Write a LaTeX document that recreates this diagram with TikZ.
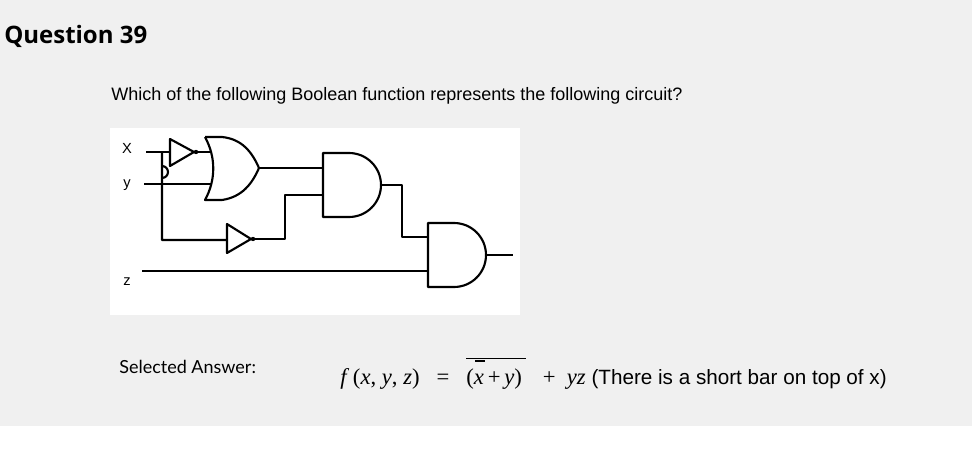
\documentclass[tikz,border=0pt]{standalone}
\usepackage{fontspec}
\setmainfont{Liberation Sans}
\newfontfamily\qfont{Open Sans}
\newfontfamily\lfont{Lato}
\newfontfamily\sfont{Liberation Serif}
\begin{document}
\begin{tikzpicture}[x=0.75pt,y=-0.75pt,wire/.style={line width=1.6pt,line join=round},
  lab/.style={inner sep=0pt,anchor=west}]
\useasboundingbox (0,0) rectangle (972,450);
\fill[white] (0,0) rectangle (972,450);
\fill[black!6] (0,0) rectangle (972,426);
\fill[white] (110,128) rectangle (520,315);
\node[lab,font=\qfont\bfseries\fontsize{18}{20}\selectfont] (q) at (4,36) {Question 39};
\node[lab,font=\fontsize{13.5}{15}\selectfont] (w) at (111,96) {Which of the following Boolean function represents the following circuit?};
\node[lab,font=\lfont\fontsize{13.5}{15}\selectfont] (s) at (119,367) {Selected Answer:};
\node[lab,font=\fontsize{15.5}{17}\selectfont] (f) at (340,373) {{\sfont\fontsize{17}{19}\selectfont\itshape f\/\upshape\,(\itshape x\upshape,\ \itshape y\upshape,\ \itshape z\upshape)\ \ \ =\ \ \ $\overline{\hbox{\sfont\fontsize{17}{19}\selectfont(\rlap{\kern0.05em\rule[0.98em]{0.45em}{1.6pt}}\itshape x\upshape\,+\,\itshape y\upshape)\,}}$\ \ \ +\ \ \itshape yz}\ (There is a short bar on top of x)};
% labels
\node[font=\fontsize{11}{12}\selectfont] (lx) at (127,148) {X};
\node[font=\fontsize{11}{12}\selectfont] (ly) at (127,185) {y};
\node[font=\fontsize{11}{12}\selectfont] (lz) at (127,282) {z};
% gates
\draw[wire] (205,137) -- (222,137) .. controls (242,139) and (252,152) .. (259,168)
  .. controls (252,184) and (242,197) .. (222,200) -- (205,200) .. controls (216,180) and (216,157) .. (205,137);
\draw[wire] (323,153) -- (349,153) arc (-90:90:32) -- (323,217) -- cycle;
\draw[wire] (428,223) -- (454,223) arc (-90:90:32) -- (428,287) -- cycle;
\draw[wire] (170,139) -- (194,152) -- (170,166) -- cycle;
\fill (196,152) circle (2.2);
\draw[wire] (227,224) -- (251,239) -- (227,253) -- cycle;
\fill (253,239) circle (2.2);
% wires
\coordinate (xs) at (146,152);
\coordinate (ys) at (144,184);
\coordinate (zs) at (142,271);
\draw[wire] (xs) -- (170,152);
\draw[wire] (196,152) -- (210,152);
\draw[wire] (ys) -- (212,184);
\draw[wire] (162,152) -- (162,178) arc (90:-90:6) -- (162,240) -- (227,240);
\draw[wire] (253,239) -- (285,239) -- (285,195) -- (323,195);
\draw[wire] (259,168) -- (323,168);
\draw[wire] (381,185) -- (402,185) -- (402,237) -- (428,237);
\draw[wire] (zs) -- (428,271);
\draw[wire] (486,255) -- (513,255);
\end{tikzpicture}
\end{document}
